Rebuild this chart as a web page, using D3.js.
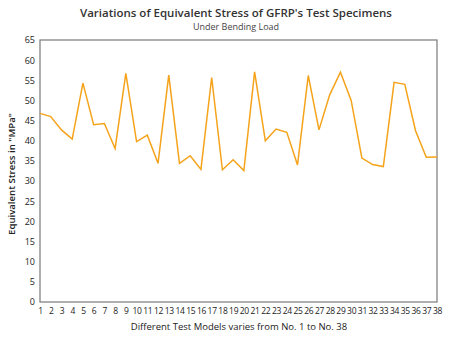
<!DOCTYPE html>
<html><head><meta charset="utf-8">
<script src="https://cdn.jsdelivr.net/npm/d3@7"></script>
<style>body{margin:0;background:#fff}svg{display:block;font-family:"Open Sans",sans-serif}</style>
</head><body><svg id="c" width="474" height="338"></svg>
<script>
const models = d3.range(1, 39);
const stress = [46.8,46.0,42.7,40.4,54.3,44.0,44.3,38.1,56.7,39.8,41.4,34.4,56.3,34.4,36.3,32.9,55.7,32.8,35.3,32.6,57.1,40.0,42.9,42.1,34.0,56.2,42.7,51.4,57.0,50.0,35.7,34.1,33.6,54.5,54.0,42.5,35.9,36.0];
const yTicks = d3.range(0, 66, 5);
const titleText = "Variations of Equivalent Stress of GFRP's Test Specimens";
const subtitleText = "Under Bending Load";
const xTitle = "Different Test Models varies from No. 1 to No. 38";
const yTitle = "Equivalent Stress in \"MPa\"";

const svg = d3.select("#c");
const m = {l:40, r:437, t:40, b:302};
const x = d3.scaleLinear().domain([1,38]).range([m.l, m.r]);
const y = d3.scaleLinear().domain([0,65]).range([m.b, m.t]);

svg.append("text").attr("x",236).attr("y",17).attr("text-anchor","middle")
  .attr("font-size",11.5).attr("font-weight",600).attr("fill","#333").text(titleText);
svg.append("text").attr("x",236).attr("y",30).attr("text-anchor","middle")
  .attr("font-size",9).attr("fill","#444").text(subtitleText);

const ya = svg.append("g").attr("transform",`translate(${m.l},0)`)
  .call(d3.axisLeft(y).tickValues(yTicks).tickSize(0).tickPadding(5));
ya.select(".domain").remove();
ya.selectAll("text").attr("font-size",9).attr("fill","#222").attr("font-family","Open Sans");

const xa = svg.append("g").attr("transform",`translate(0,${m.b})`)
  .call(d3.axisBottom(x).tickValues(models).tickFormat(d3.format("d")).tickSize(0).tickPadding(6));
xa.select(".domain").remove();
xa.selectAll("text").attr("font-size",8.5).attr("fill","#222").attr("font-family","Open Sans").attr("letter-spacing",-0.3);

svg.append("rect").attr("x",m.l).attr("y",m.t).attr("width",m.r-m.l).attr("height",m.b-m.t)
  .attr("fill","none").attr("stroke","#7a7a7a").attr("stroke-width",1.2);

svg.append("path").datum(stress)
  .attr("fill","none").attr("stroke","#f5a31a").attr("stroke-width",1.5).attr("stroke-linejoin","miter")
  .attr("d", d3.line().x((d,i)=>x(models[i])).y(d=>y(d)));

svg.append("text").attr("x",239).attr("y",330).attr("text-anchor","middle")
  .attr("font-size",9.5).attr("fill","#222").text(xTitle);
svg.append("text").attr("transform",`translate(15,174) rotate(-90)`).attr("text-anchor","middle")
  .attr("font-size",9.6).attr("font-weight",600).attr("fill","#222").text(yTitle);
</script></body></html>
